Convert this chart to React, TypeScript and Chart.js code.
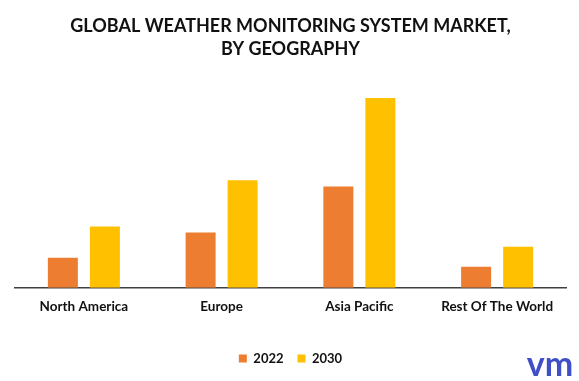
import React, { useEffect, useRef } from "react";
import { Chart, registerables } from "chart.js";

Chart.register(...registerables);

const categories = ["North America", "Europe", "Asia Pacific", "Rest Of The World"];
const series2022 = [30, 55, 101, 21];
const series2030 = [61, 107, 189, 41];
const seriesLabels = ["2022", "2030"];
const titleLines = ["GLOBAL WEATHER MONITORING SYSTEM MARKET,", "BY GEOGRAPHY"];

const FONT = "Lato, 'Open Sans', sans-serif";

const logoPlugin = {
  id: "logo",
  afterDraw(chart: any) {
    const ctx = chart.ctx;
    ctx.save();
    ctx.fillStyle = "#3F4FC8";
    ctx.font = `bold 34px ${FONT}`;
    ctx.textAlign = "center";
    ctx.textBaseline = "alphabetic";
    ctx.fillText("vm", 550, 376);
    ctx.restore();
  },
};

export default function App() {
  const ref = useRef<HTMLCanvasElement>(null);
  useEffect(() => {
    const chart = new Chart(ref.current!, {
      type: "bar",
      data: {
        labels: categories,
        datasets: [
          { label: seriesLabels[0], data: series2022, backgroundColor: "#ED7D31", categoryPercentage: 0.61, barPercentage: 0.714 },
          { label: seriesLabels[1], data: series2030, backgroundColor: "#FFC000", categoryPercentage: 0.61, barPercentage: 0.714 },
        ],
      },
      options: {
        animation: false,
        responsive: false,
        maintainAspectRatio: false,
        layout: { padding: { left: 15, right: 13, top: 10, bottom: 6 } },
        plugins: {
          title: {
            display: true,
            text: titleLines,
            color: "#111",
            font: { family: FONT, size: 18, weight: "bold", lineHeight: 1.25 },
            padding: { top: 5, bottom: 30 },
          },
          legend: {
            position: "bottom",
            labels: {
              boxWidth: 8,
              boxHeight: 8,
              color: "#111",
              font: { family: FONT, size: 13, weight: "bold" },
              padding: 14,
            },
          },
          tooltip: { enabled: false },
        },
        scales: {
          x: {
            grid: { display: false },
            border: { display: true, color: "#404040", width: 1.5 },
            ticks: { color: "#111", font: { family: FONT, size: 13.5, weight: "bold" }, padding: 3, maxRotation: 0 },
            afterFit(scale: any) {
              scale.height += 20;
            },
          },
          y: { display: false, min: 0, max: 197 },
        },
      },
      plugins: [logoPlugin],
    });
    return () => chart.destroy();
  }, []);
  return (
    <div style={{ position: "fixed", left: 0, top: 0, width: 579, height: 381, background: "#fff" }}>
      <canvas ref={ref} width={579} height={381} />
    </div>
  );
}
